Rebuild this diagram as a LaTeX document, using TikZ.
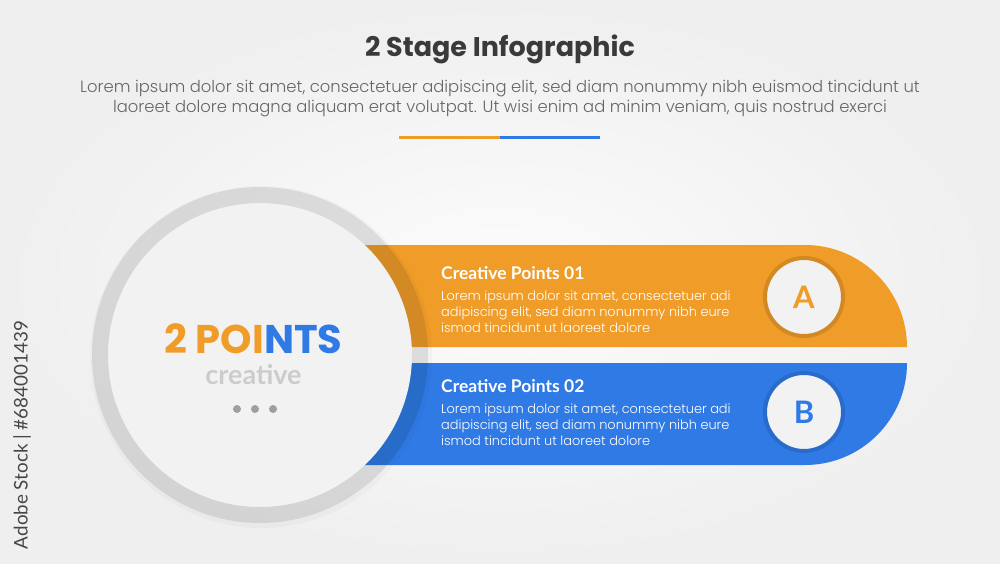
\documentclass[tikz,border=0pt]{standalone}
\usepackage{fontspec}
\setmainfont{Poppins}
\newfontfamily\lato{Lato}
\newfontfamily\popl{Poppins Light}
\definecolor{orng}{HTML}{EF9C29}
\definecolor{blu}{HTML}{2F7AE5}
\definecolor{txtdark}{HTML}{3A3A3A}
\definecolor{txtgray}{HTML}{666666}
\definecolor{circfill}{HTML}{F2F2F2}
\definecolor{bgin}{HTML}{FCFCFC}
\definecolor{bgout}{HTML}{EFEFEF}
\tikzset{
  titletext/.style={font=\bfseries\fontsize{27}{30}\selectfont, text=txtdark, inner sep=0},
  subtext/.style={font=\popl\fontsize{16.4}{20}\selectfont, text=txtgray, align=center, inner sep=0},
  headtext/.style={font=\lato\bfseries\fontsize{17.5}{20}\selectfont, text=white, inner sep=0, anchor=base west},
  bodytext/.style={font=\popl\fontsize{12.9}{16}\selectfont, text=white, align=left, inner sep=0, anchor=north west},
  badge/.style={circle, minimum size=78pt, inner sep=0, line width=4pt, fill=circfill, font=\lato\bfseries\fontsize{31}{31}\selectfont},
  dotmark/.style={circle, fill=gray!75, minimum size=8pt, inner sep=0},
}
\begin{document}
\begin{tikzpicture}[x=1pt,y=1pt]
\useasboundingbox (0,0) rectangle (1000,563);
\shade[inner color=bgin, outer color=bgout] (0,0) rectangle (1000,563);

% title block
\node[titletext] (title) at (500,514) {2 Stage Infographic};
\node[subtext] (sub) at (500,464) {Lorem ipsum dolor sit amet, consectetuer adipiscing elit, sed diam nonummy nibh euismod tincidunt ut\\laoreet dolore magna aliquam erat volutpat. Ut wisi enim ad minim veniam, quis nostrud exerci};
\draw[orng, line width=3pt] (399,425) -- (499.5,425);
\draw[blu, line width=3pt] (499.5,425) -- (600,425);

% bars
\fill[orng] (300,318) -- (805,318) arc[start angle=90, end angle=0, radius=102] -- (300,216) -- cycle;
\fill[blu] (300,200) -- (907,200) arc[start angle=0, end angle=-90, radius=102] -- (300,98) -- cycle;

% big circle
\fill[black, opacity=0.025] (261,206) circle[radius=171];
\fill[circfill] (260,208) circle[radius=152];
\fill[black, opacity=0.09, even odd rule] (260,208) circle[radius=168] (260,208) circle[radius=152];

\node[font=\fontsize{27}{31}\selectfont, align=center, anchor=north, inner sep=0] (pts) at (253.5,239.3)
  {{\bfseries\fontsize{40}{40}\selectfont\textcolor{orng}{2 POI}\textcolor{blu}{NTS}}\\
   {\lato\bfseries\fontsize{27}{31}\selectfont\textcolor{gray!40}{creative}}};
\node[dotmark] (d1) at (237,154) {};
\node[dotmark] (d2) at (255,154) {};
\node[dotmark] (d3) at (273,154) {};

% texts in bars
\node[headtext] (h1) at (441,284) {Creative Points 01};
\node[bodytext] (b1) at (441,272) {Lorem ipsum dolor sit amet, consectetuer adi\\adipiscing elit, sed diam nonummy nibh eure\\ismod tincidunt ut laoreet dolore};
\node[headtext] (h2) at (441,171) {Creative Points 02};
\node[bodytext] (b2) at (441,159) {Lorem ipsum dolor sit amet, consectetuer adi\\adipiscing elit, sed diam nonummy nibh eure\\ismod tincidunt ut laoreet dolore};

% badges
\node[badge, draw=orng!88!black, text=orng] (A) at (804,266) {A};
\node[badge, draw=blu!88!black, text=blu] (B) at (804,151) {B};

% side credit
\node[rotate=90, font=\lato\fontsize{18.8}{19}\selectfont, text=gray!55!black, inner sep=0] (wm) at (22,128) {Adobe Stock | \#684001439};
\end{tikzpicture}
\end{document}
